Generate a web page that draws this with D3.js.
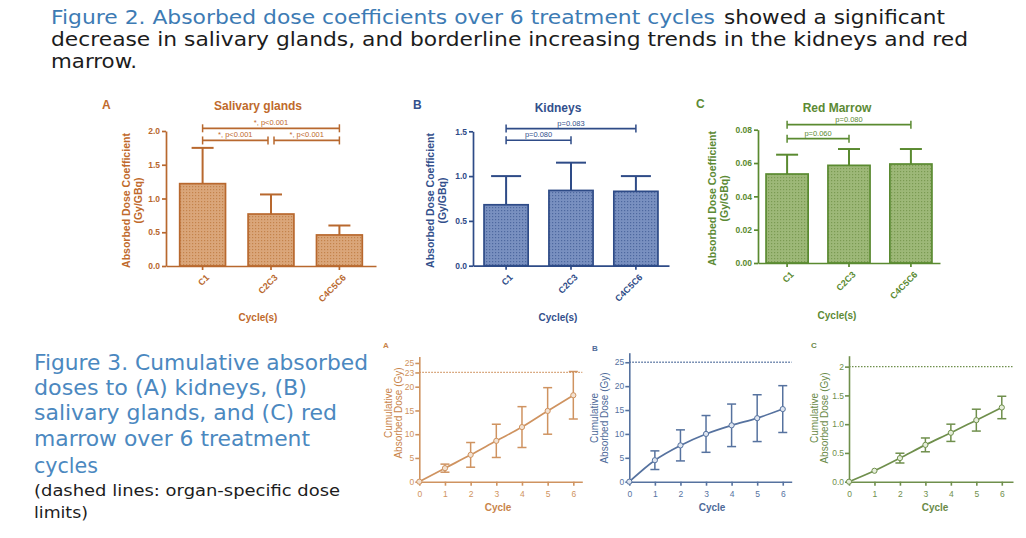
<!DOCTYPE html>
<html>
<head>
<meta charset="utf-8">
<script src="https://cdn.jsdelivr.net/npm/d3@7"></script>
<style>
  body { margin: 0; background: #fff; }
  svg { display: block; }
</style>
</head>
<body>
<svg></svg>
<script>
// ---- data ----
// figure 2: absorbed dose coefficients (mean, SD shown as upper error bar)
const barCats = ['C1', 'C2C3', 'C4C5C6'];
const salivaryMean = [1.22, 0.77, 0.46];
const salivarySD = [0.53, 0.29, 0.14];
const kidneyMean = [0.68, 0.84, 0.83];
const kidneySD = [0.32, 0.31, 0.17];
const marrowMean = [0.0534, 0.0586, 0.0594];
const marrowSD = [0.0116, 0.0098, 0.0090];

// significance brackets (level 0 = upper row)
const salivaryP = [
    {from: 'C1', to: 'C4C5C6', label: '*, p<0.001', level: 0},
    {from: 'C1', to: 'C2C3', label: '*, p<0.001', level: 1},
    {from: 'C2C3', to: 'C4C5C6', label: '*, p<0.001', level: 1}
];
const kidneyP = [
    {from: 'C1', to: 'C4C5C6', label: 'p=0.083', level: 0},
    {from: 'C1', to: 'C2C3', label: 'p=0.080', level: 1}
];
const marrowP = [
    {from: 'C1', to: 'C4C5C6', label: 'p=0.080', level: 0},
    {from: 'C1', to: 'C2C3', label: 'p=0.060', level: 1}
];

// figure 3: cumulative absorbed dose per cycle
const cycles = [0, 1, 2, 3, 4, 5, 6];
const cumA = [0, 2.85, 5.65, 8.6, 11.5, 14.9, 18.2];
const cumASD = [0, 0.85, 2.6, 3.5, 4.3, 4.9, 5.0];
const cumB = [0, 4.5, 7.6, 10.0, 11.8, 13.3, 15.2];
const cumBSD = [0, 1.95, 3.25, 3.85, 4.45, 4.9, 4.9];
const cumC = [0, 0.19, 0.41, 0.64, 0.85, 1.07, 1.29];
const cumCSD = [0, 0.01, 0.085, 0.12, 0.15, 0.19, 0.195];
const doseLimits = [23, 25, 2];

const salivaryTicks = [0, 0.5, 1.0, 1.5, 2.0];
const kidneyTicks = [0, 0.5, 1.0, 1.5];
const marrowTicks = [0, 0.02, 0.04, 0.06, 0.08];
const cumATicks = [0, 5, 10, 15, 20, 23, 25];
const cumBTicks = [0, 5, 10, 15, 20, 25];
const cumCTicks = [0, 0.5, 1.0, 1.5, 2];

// ---- setup ----
const W = 1026, H = 538;
const svg = d3.select('svg').attr('width', W).attr('height', H);
svg.append('rect').attr('width', W).attr('height', H).attr('fill', '#fff');
const defs = svg.append('defs');
const chartFont = "'Liberation Sans', Arial, sans-serif";
const capFont = "'DejaVu Sans', Verdana, sans-serif";

// dotted fill like the graphpad bar pattern
function makePattern(id, base, dot) {
    let p = defs.append('pattern').attr('id', id)
        .attr('width', 3).attr('height', 3)
        .attr('patternUnits', 'userSpaceOnUse');
    p.append('rect').attr('width', 3).attr('height', 3).attr('fill', base);
    p.append('rect').attr('width', 1.2).attr('height', 1.2).attr('fill', dot);
}
makePattern('patOrange', '#daa67a', '#c4834b');
makePattern('patBlue', '#7990c0', '#4e689f');
makePattern('patGreen', '#9db878', '#7a9a52');

// ---- captions ----
function capLine(x, y, str, len, size, color) {
    svg.append('text')
        .attr('x', x).attr('y', y)
        .attr('textLength', len).attr('lengthAdjust', 'spacingAndGlyphs')
        .style('font-family', capFont).style('font-size', size + 'px')
        .attr('fill', color)
        .text(str);
}
const capBlue2 = '#3d7bb4', capBlue3 = '#4b88c0', capBlack = '#1c1c1c';
capLine(51, 24, 'Figure 2. Absorbed dose coefficients over 6 treatment cycles', 664, 20, capBlue2);
capLine(724, 24, 'showed a significant', 221, 20, capBlack);
capLine(51, 46, 'decrease in salivary glands, and borderline increasing trends in the kidneys and red', 917, 20, capBlack);
capLine(51, 68, 'marrow.', 86, 20, capBlack);

capLine(34, 370, 'Figure 3. Cumulative absorbed', 334, 21, capBlue3);
capLine(34, 395, 'doses to (A) kidneys, (B)', 273, 21, capBlue3);
capLine(34, 420, 'salivary glands, and (C) red', 303, 21, capBlue3);
capLine(34, 446, 'marrow over 6 treatment', 276, 21, capBlue3);
capLine(34, 473, 'cycles', 64, 21, capBlue3);
capLine(34, 496, '(dashed lines: organ-specific dose', 306, 16, capBlack);
capLine(34, 518, 'limits)', 54, 16, capBlack);

function styleAxis(g, color, width, size, weight) {
    g.attr('font-family', null).attr('font-size', null);
    g.select('.domain').attr('stroke', color).attr('stroke-width', width);
    g.selectAll('.tick line').attr('stroke', color).attr('stroke-width', width);
    g.selectAll('.tick text')
        .attr('fill', color)
        .style('font-family', chartFont)
        .style('font-size', size + 'px')
        .style('font-weight', weight);
}

// ---- bar charts (figure 2) ----
function drawBar(c) {
    let g = svg.append('g');
    let y = d3.scaleLinear().domain([0, c.max]).range([c.yBase, c.yTop]);
    let x = d3.scaleBand().domain(barCats).range([c.x0, c.x1])
        .paddingInner(c.pi).paddingOuter(c.po);
    let bw = x.bandwidth();
    let rows = barCats.map((k, i) => ({cat: k, mean: c.mean[i], sd: c.sd[i]}));

    // error bars (upper only)
    rows.forEach(d => {
        let cx = x(d.cat) + bw / 2;
        g.append('line').attr('x1', cx).attr('x2', cx)
            .attr('y1', y(d.mean)).attr('y2', y(d.mean + d.sd))
            .attr('stroke', c.stroke).attr('stroke-width', 2);
        g.append('line').attr('x1', cx - c.cap).attr('x2', cx + c.cap)
            .attr('y1', y(d.mean + d.sd)).attr('y2', y(d.mean + d.sd))
            .attr('stroke', c.stroke).attr('stroke-width', 2);
    });

    g.selectAll('rect.bar').data(rows).enter().append('rect')
        .attr('class', 'bar')
        .attr('x', d => x(d.cat))
        .attr('y', d => y(d.mean))
        .attr('width', bw)
        .attr('height', d => y(0) - y(d.mean))
        .attr('fill', 'url(#' + c.pattern + ')')
        .attr('stroke', c.stroke).attr('stroke-width', 1.7);

    // axes
    let yAx = g.append('g').attr('transform', `translate(${c.x0},0)`)
        .call(d3.axisLeft(y).tickValues(c.ticks).tickFormat(d3.format(c.fmt))
            .tickSize(4).tickSizeOuter(0).tickPadding(2));
    styleAxis(yAx, c.stroke, 1.7, 8.5, 'bold');

    let xAx = g.append('g').attr('transform', `translate(0,${c.yBase})`)
        .call(d3.axisBottom(x).tickSize(4).tickSizeOuter(0));
    styleAxis(xAx, c.stroke, 1.7, 9, 'bold');
    xAx.selectAll('.tick text')
        .attr('x', 0).attr('y', 0).attr('dy', '0.35em')
        .attr('transform', 'translate(5,10) rotate(-45)')
        .style('text-anchor', 'end');

    // significance brackets
    c.brackets.forEach(b => {
        let xa = x(b.from) + bw / 2, xb = x(b.to) + bw / 2;
        let shared = c.brackets.filter(o => o !== b && o.level === b.level);
        if (shared.some(o => o.from === b.to)) xb -= 3;
        if (shared.some(o => o.to === b.from)) xa += 3;
        let by = y(c.levels[b.level]);
        g.append('line').attr('x1', xa).attr('x2', xb).attr('y1', by).attr('y2', by)
            .attr('stroke', c.stroke).attr('stroke-width', 1.7);
        [xa, xb].forEach(xx => {
            g.append('line').attr('x1', xx).attr('x2', xx).attr('y1', by - 4).attr('y2', by + 4)
                .attr('stroke', c.stroke).attr('stroke-width', 1.5);
        });
        g.append('text').attr('x', (xa + xb) / 2).attr('y', by - 3)
            .attr('text-anchor', 'middle')
            .style('font-family', chartFont).style('font-size', '7.5px')
            .attr('fill', c.color).text(b.label);
    });

    // labels
    g.append('text').attr('x', c.titleX).attr('y', c.titleY).attr('text-anchor', 'middle')
        .style('font-family', chartFont).style('font-size', '12px').style('font-weight', 'bold')
        .attr('fill', c.color).text(c.title);
    g.append('text').attr('x', c.letterX).attr('y', c.letterY)
        .style('font-family', chartFont).style('font-size', '12px').style('font-weight', 'bold')
        .attr('fill', c.color).text(c.letter);
    g.append('text').attr('x', c.titleX).attr('y', c.cycleY).attr('text-anchor', 'middle')
        .style('font-family', chartFont).style('font-size', '10px').style('font-weight', 'bold')
        .attr('fill', c.color).text('Cycle(s)');
    let midY = (c.yBase + c.yTop) / 2 + 2;
    let yl = g.append('text')
        .attr('transform', `translate(${c.labelX},${midY}) rotate(-90)`)
        .attr('text-anchor', 'middle')
        .style('font-family', chartFont).style('font-size', '10.5px').style('font-weight', 'bold')
        .attr('fill', c.color);
    yl.append('tspan').attr('x', 0).attr('dy', 0).text('Absorbed Dose Coefficient');
    yl.append('tspan').attr('x', 0).attr('dy', 11.5).text('(Gy/GBq)');
}

drawBar({
    mean: salivaryMean, sd: salivarySD, brackets: salivaryP, levels: [2.04, 1.86],
    max: 2.0, ticks: salivaryTicks, fmt: '.1f',
    x0: 166, x1: 376, yBase: 266, yTop: 131, pi: 0.33, po: 0.2, cap: 11,
    color: '#c06a2c', stroke: '#b8682e', pattern: 'patOrange',
    title: 'Salivary glands', titleX: 258, titleY: 110, letter: 'A', letterX: 102, letterY: 109,
    cycleY: 321, labelX: 130
});
drawBar({
    mean: kidneyMean, sd: kidneySD, brackets: kidneyP, levels: [1.53, 1.40],
    max: 1.5, ticks: kidneyTicks, fmt: '.1f',
    x0: 473, x1: 669, yBase: 265.7, yTop: 131.3, pi: 0.32, po: 0.17, cap: 15,
    color: '#33508c', stroke: '#2e4b87', pattern: 'patBlue',
    title: 'Kidneys', titleX: 558, titleY: 112, letter: 'B', letterX: 413, letterY: 109,
    cycleY: 321, labelX: 434
});
drawBar({
    mean: marrowMean, sd: marrowSD, brackets: marrowP, levels: [0.083, 0.0746],
    max: 0.08, ticks: marrowTicks, fmt: '.2f',
    x0: 758, x1: 940, yBase: 263, yTop: 129.7, pi: 0.32, po: 0.13, cap: 11,
    color: '#5c8a34', stroke: '#5a8a30', pattern: 'patGreen',
    title: 'Red Marrow', titleX: 837, titleY: 112, letter: 'C', letterX: 696, letterY: 108,
    cycleY: 319, labelX: 716
});

// ---- cumulative dose line charts (figure 3) ----
function drawLine(c) {
    let g = svg.append('g');
    let x = d3.scaleLinear().domain([0, c.xMax]).range([c.x0, c.x1]);
    let y = d3.scaleLinear().domain([0, c.yMax]).range([c.yBase, c.yTop]);
    let pts = cycles.map((k, i) => ({c: k, v: c.mean[i], sd: c.sd[i]}));

    // dose limit
    g.append('line').attr('x1', c.x0).attr('x2', c.x1)
        .attr('y1', y(c.limit)).attr('y2', y(c.limit))
        .attr('stroke', c.stroke).attr('stroke-width', 1.3)
        .attr('stroke-dasharray', '1.5,1.5');

    let yAx = g.append('g').attr('transform', `translate(${c.x0},0)`)
        .call(d3.axisLeft(y).tickValues(c.ticks).tickFormat(c.fmt)
            .tickSize(4).tickSizeOuter(0).tickPadding(1));
    styleAxis(yAx, c.stroke, 1.6, 8.5, 'normal');
    let xAx = g.append('g').attr('transform', `translate(0,${c.yBase})`)
        .call(d3.axisBottom(x).tickValues(cycles).tickFormat(d3.format('d'))
            .tickSize(4).tickSizeOuter(0).tickPadding(5));
    styleAxis(xAx, c.stroke, 1.6, 8.5, 'normal');

    // error bars
    pts.filter(d => d.sd > 0.02 * c.yMax).forEach(d => {
        let cx = x(d.c);
        g.append('line').attr('x1', cx).attr('x2', cx)
            .attr('y1', y(d.v - d.sd)).attr('y2', y(d.v + d.sd))
            .attr('stroke', c.stroke).attr('stroke-width', 1.5);
        [d.v - d.sd, d.v + d.sd].forEach(v => {
            g.append('line').attr('x1', cx - 4.5).attr('x2', cx + 4.5)
                .attr('y1', y(v)).attr('y2', y(v))
                .attr('stroke', c.stroke).attr('stroke-width', 1.5);
        });
    });

    let line = d3.line().x(d => x(d.c)).y(d => y(d.v)).curve(d3.curveMonotoneX);
    g.append('path').datum(pts).attr('d', line)
        .attr('fill', 'none').attr('stroke', c.stroke).attr('stroke-width', 1.7);

    g.selectAll('circle').data(pts).enter().append('circle')
        .attr('cx', d => x(d.c)).attr('cy', d => y(d.v)).attr('r', 2.6)
        .attr('fill', c.markerFill).attr('stroke', c.stroke).attr('stroke-width', 1);

    g.append('text').attr('x', c.letterX).attr('y', c.letterY)
        .style('font-family', chartFont).style('font-size', '8px').style('font-weight', 'bold')
        .attr('fill', c.color).text(c.letter);
    g.append('text').attr('x', c.cycleX).attr('y', 511).attr('text-anchor', 'middle')
        .style('font-family', chartFont).style('font-size', '10px').style('font-weight', 'bold')
        .attr('fill', c.color).text('Cycle');
    let yl = g.append('text')
        .attr('transform', `translate(${c.labelX},${c.labelY}) rotate(-90)`)
        .attr('text-anchor', 'middle')
        .style('font-family', chartFont).style('font-size', '10px')
        .attr('fill', c.color);
    yl.append('tspan').attr('x', 0).attr('dy', 0).text('Cumulative');
    yl.append('tspan').attr('x', 0).attr('dy', 10).text('Absorbed Dose (Gy)');
}

drawLine({
    mean: cumA, sd: cumASD, limit: doseLimits[0], ticks: cumATicks, fmt: d3.format('d'),
    x0: 419.3, x1: 582.3, xMax: 6.35, yBase: 481.7, yTop: 356.5, yMax: 26.36,
    stroke: '#cf9360', color: '#c9844a', markerFill: '#f3e2d2',
    letter: 'A', letterX: 383, letterY: 348, cycleX: 498, labelX: 392, labelY: 413
});
drawLine({
    mean: cumB, sd: cumBSD, limit: doseLimits[1], ticks: cumBTicks, fmt: d3.format('d'),
    x0: 629.3, x1: 791.7, xMax: 6.35, yBase: 481.7, yTop: 352.7, yMax: 27.0,
    stroke: '#56729f', color: '#4e6a99', markerFill: '#dfe6f1',
    letter: 'B', letterX: 592, letterY: 351, cycleX: 712, labelX: 598, labelY: 418
});
drawLine({
    mean: cumC, sd: cumCSD, limit: doseLimits[2], ticks: cumCTicks,
    fmt: d => d === 2 ? '2' : d3.format('.1f')(d),
    x0: 849, x1: 1013, xMax: 6.44, yBase: 481.7, yTop: 355.7, yMax: 2.19,
    stroke: '#6f8f4c', color: '#6a8a48', markerFill: '#e6eedb',
    letter: 'C', letterX: 811, letterY: 348, cycleX: 935, labelX: 818, labelY: 418
});
</script>
</body>
</html>
